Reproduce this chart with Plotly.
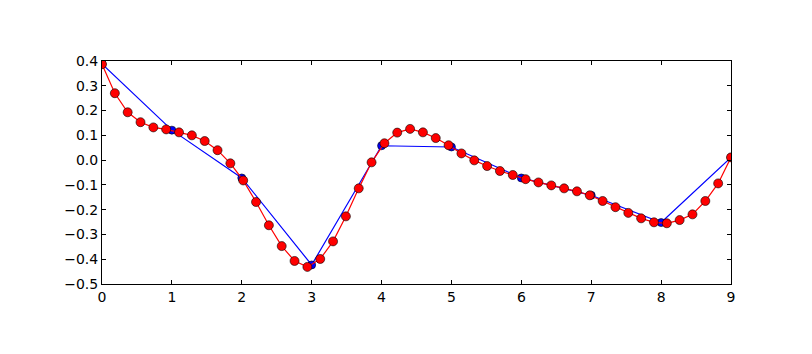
import plotly.graph_objects as go

# Coarse data (blue)
x_coarse = [0, 1, 2, 3, 4, 5, 6, 7, 8, 9]
y_coarse = [0.388, 0.121, -0.072, -0.423, 0.058, 0.053, -0.072, -0.142, -0.252, 0.011]

# Dense data (red)
x_dense = [i * 9 / 49 for i in range(50)]
y_dense = [0.387, 0.270, 0.193, 0.153, 0.132, 0.124, 0.112, 0.100, 0.077, 0.040,
           -0.013, -0.082, -0.169, -0.263, -0.347, -0.407, -0.431, -0.399, -0.328, -0.227,
           -0.114, -0.009, 0.068, 0.111, 0.126, 0.112, 0.089, 0.060, 0.027, -0.001,
           -0.024, -0.044, -0.060, -0.077, -0.090, -0.102, -0.114, -0.126, -0.142, -0.165,
           -0.190, -0.213, -0.235, -0.251, -0.255, -0.242, -0.219, -0.165, -0.094, 0.011]

x_ticks = [0, 1, 2, 3, 4, 5, 6, 7, 8, 9]
y_ticks = [0.4, 0.3, 0.2, 0.1, 0.0, -0.1, -0.2, -0.3, -0.4, -0.5]

fig = go.Figure()
fig.add_trace(go.Scatter(
    x=x_coarse, y=y_coarse, mode="lines+markers",
    line=dict(color="#0000ff", width=1.2),
    marker=dict(color="#0000ff", size=8, line=dict(color="black", width=0.6)),
    showlegend=False,
))
fig.add_trace(go.Scatter(
    x=x_dense, y=y_dense, mode="lines+markers",
    line=dict(color="#ff0000", width=1.2),
    marker=dict(color="#ff0000", size=9, line=dict(color="black", width=0.6)),
    showlegend=False,
))

axis_common = dict(
    showgrid=False, zeroline=False, showline=True, linecolor="black", linewidth=1,
    mirror="ticks", ticks="inside", ticklen=4, tickcolor="black", tickwidth=1,
    tickfont=dict(family="DejaVu Sans", size=14, color="black"),
)
fig.update_xaxes(range=[0, 9], tickvals=x_ticks, ticktext=[str(v) for v in x_ticks], **axis_common)
fig.update_yaxes(range=[-0.5, 0.4], tickvals=y_ticks, tickformat=".1f", **axis_common)

fig.update_layout(
    width=812, height=354,
    margin=dict(l=102, r=81, t=61, b=70),
    paper_bgcolor="white", plot_bgcolor="white",
)
fig.write_html("out.html")
